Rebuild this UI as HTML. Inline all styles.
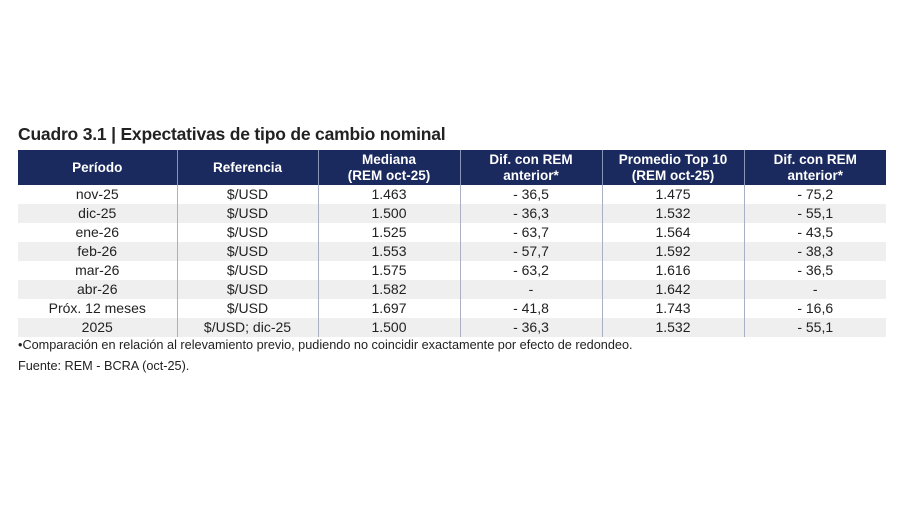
<!DOCTYPE html>
<html><head><meta charset="utf-8"><style>
body{margin:0;width:900px;height:505px;background:#fff;position:relative;overflow:hidden;font-family:"Liberation Sans",sans-serif;color:#222}
.title{position:absolute;left:18px;top:124px;font-size:17.5px;font-weight:bold;letter-spacing:-0.2px}
table{position:absolute;left:18px;top:150px;width:868px;border-collapse:collapse;table-layout:fixed}
th{background:#1b2a5e;color:#fff;font-size:13.5px;font-weight:bold;height:35px;padding:0;line-height:16px;border-left:1px solid #8a96b8}
th:first-child{border-left:none}
td{height:19px;padding:0;text-align:center;font-size:14px;border-left:1px solid #a9b0c4;line-height:19px}
td:first-child{border-left:none}
tr:nth-child(even) td{background:#efefef}
.note{position:absolute;left:18px;font-size:12.7px;color:#222}
</style></head><body>
<div class="title">Cuadro 3.1 | Expectativas de tipo de cambio nominal</div>
<table>
<colgroup><col style="width:159px"><col style="width:141px"><col style="width:142px"><col style="width:142px"><col style="width:142px"><col style="width:142px"></colgroup>
<thead><tr>
<th>Período</th><th>Referencia</th><th>Mediana<br>(REM oct-25)</th><th>Dif. con REM<br>anterior*</th><th>Promedio Top 10<br>(REM oct-25)</th><th>Dif. con REM<br>anterior*</th></tr></thead>
<tbody>
<tr><td>nov-25</td><td>$/USD</td><td>1.463</td><td>- 36,5</td><td>1.475</td><td>- 75,2</td></tr>
<tr><td>dic-25</td><td>$/USD</td><td>1.500</td><td>- 36,3</td><td>1.532</td><td>- 55,1</td></tr>
<tr><td>ene-26</td><td>$/USD</td><td>1.525</td><td>- 63,7</td><td>1.564</td><td>- 43,5</td></tr>
<tr><td>feb-26</td><td>$/USD</td><td>1.553</td><td>- 57,7</td><td>1.592</td><td>- 38,3</td></tr>
<tr><td>mar-26</td><td>$/USD</td><td>1.575</td><td>- 63,2</td><td>1.616</td><td>- 36,5</td></tr>
<tr><td>abr-26</td><td>$/USD</td><td>1.582</td><td>-</td><td>1.642</td><td>-</td></tr>
<tr><td>Próx. 12 meses</td><td>$/USD</td><td>1.697</td><td>- 41,8</td><td>1.743</td><td>- 16,6</td></tr>
<tr><td>2025</td><td>$/USD; dic-25</td><td>1.500</td><td>- 36,3</td><td>1.532</td><td>- 55,1</td></tr>
</tbody></table>
<div class="note" style="top:338px">•Comparación en relación al relevamiento previo, pudiendo no coincidir exactamente por efecto de redondeo.</div>
<div class="note" style="top:359px">Fuente: REM - BCRA (oct-25).</div>
</body></html>
